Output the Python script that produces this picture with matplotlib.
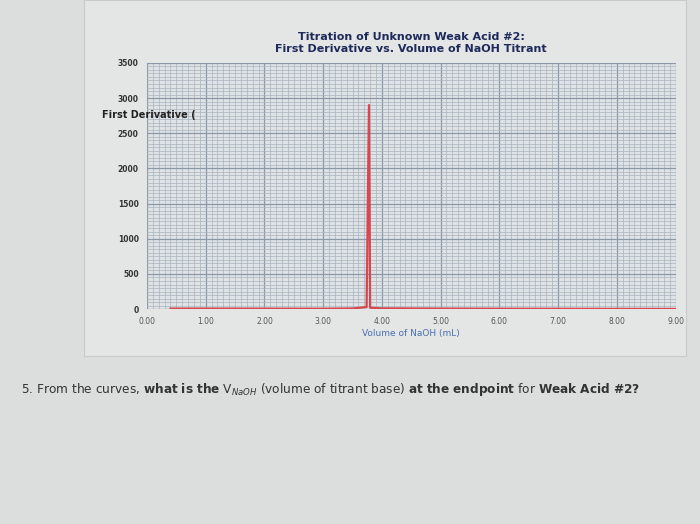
import matplotlib.pyplot as plt
import numpy as np

# titration first-derivative data
volume_ml = [0.40, 1.00, 2.00, 3.00, 3.50, 3.74, 3.78, 3.80, 4.00, 5.00, 6.00, 7.00, 8.00, 9.00]
first_deriv = [8, 8, 7, 6, 10, 30, 2900, 20, 12, 8, 6, 5, 4, 3]
x_ticks = [0, 1, 2, 3, 4, 5, 6, 7, 8, 9]
y_ticks = [0, 500, 1000, 1500, 2000, 2500, 3000, 3500]

fig = plt.figure(figsize=(7, 5.24), dpi=100)
fig.patch.set_facecolor('#dcdedd')

# chart card
card = fig.add_axes([0.12, 0.32, 0.86, 0.68])
card.set_facecolor('#e4e6e6')
card.set_xticks([]); card.set_yticks([])
for s in card.spines.values():
    s.set_color('#c8cacb')

ax = fig.add_axes([0.21, 0.41, 0.755, 0.47])
ax.set_facecolor('#dfe3e6')
ax.plot(volume_ml, first_deriv, color='#d9464e', lw=1.6)
ax.set_xlim(0, 9)
ax.set_ylim(0, 3500)
ax.set_xticks(x_ticks)
ax.set_xticklabels([f'{v:.2f}' for v in x_ticks], fontsize=5.5, color='#555')
ax.set_yticks(y_ticks)
ax.set_yticklabels([str(v) for v in y_ticks], fontsize=5.5, color='#333', fontweight='bold')
ax.set_xticks(np.arange(0, 9.01, 0.1), minor=True)
ax.set_yticks(np.arange(0, 3501, 50), minor=True)
ax.grid(which='major', color='#8a98a8', lw=0.9)
ax.grid(which='minor', color='#a9b4c0', lw=0.5)
ax.tick_params(length=0, which='both', pad=6)
for s in ax.spines.values():
    s.set_visible(False)
ax.set_xlabel('Volume of NaOH (mL)', fontsize=6.5, color='#4a6fb0', labelpad=2)
ax.set_title('Titration of Unknown Weak Acid #2:\nFirst Derivative vs. Volume of NaOH Titrant',
             fontsize=8, fontweight='bold', color='#1d2a5a', pad=8)
fig.text(0.145, 0.775, 'First Derivative (', fontsize=7, fontweight='bold', color='#222')

fig.text(0.03, 0.25,
         '5. From the curves, $\\bf{what\\ is\\ the}$ V$_{NaOH}$ (volume of titrant base) '
         '$\\bf{at\\ the\\ endpoint}$ for $\\bf{Weak\\ Acid\\ \\#2?}$',
         fontsize=8.7, color='#333')

fig.savefig('out.png', dpi=100, facecolor=fig.get_facecolor())
